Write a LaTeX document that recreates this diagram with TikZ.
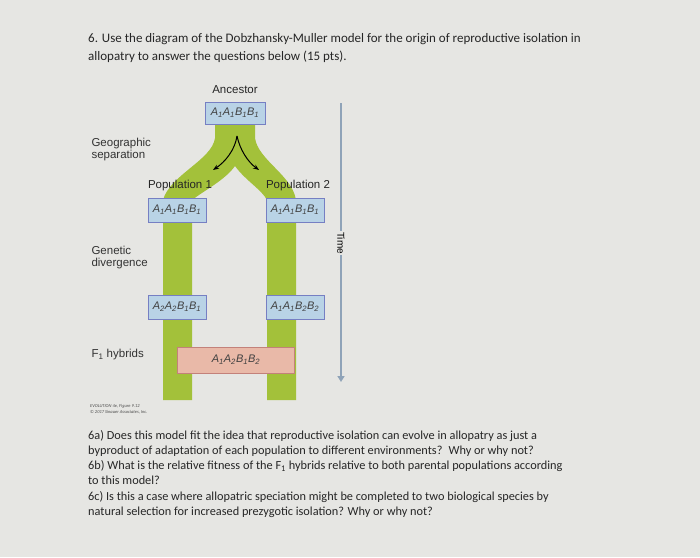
\documentclass[tikz,border=0pt]{standalone}
\usepackage{fontspec}
\setmainfont{Carlito}
\newfontfamily\fig{Liberation Sans}
\usetikzlibrary{arrows.meta}
\definecolor{bg}{HTML}{E6E6E3}
\definecolor{grn}{HTML}{A3C13A}
\definecolor{boxb}{HTML}{B9D3E6}
\definecolor{boxr}{HTML}{E9B9A8}
\definecolor{tline}{HTML}{8FA3B8}
\newcommand{\ssb}[1]{\textsubscript{#1}}
\tikzset{
 gbox/.style={draw=boxb!60!blue!60!gray, fill=boxb, minimum width=58pt, minimum height=24pt, inner sep=0pt, font=\fig\itshape\fontsize{11}{13}\selectfont, text=black!75},
 hbox/.style={gbox, draw=boxr!70!red!60!gray, fill=boxr, minimum width=117pt, minimum height=26pt},
 lab/.style={font=\fig\fontsize{11.5}{13}\selectfont, text=black!80, align=left, anchor=west},
 ttl/.style={font=\fig\fontsize{11.5}{13}\selectfont, text=black!85},
 qtxt/.style={anchor=north west, font=\fontsize{12.3}{15}\selectfont, text=black!85, align=left, inner sep=0pt}
}
\begin{document}
\begin{tikzpicture}[x=1pt,y=-1pt]
\fill[bg] (0,0) rectangle (700,557);
\useasboundingbox (0,0) rectangle (700,557);
% green branches
\fill[grn] (215,124) -- (215,138) .. controls (212,160) and (170,175) .. (163,200) -- (163,400) -- (192,400) -- (192,200) .. controls (205,190) and (225,180) .. (235,166)
 .. controls (245,180) and (262,190) .. (267,200) -- (267,400) -- (296,400) -- (296,200) .. controls (292,175) and (258,160) .. (255,138) -- (255,124) -- cycle;
\node[ttl] (anc) at (235,90) {Ancestor};
\node[gbox, minimum width=60pt, minimum height=22pt] (a) at (235,113) {A\ssb1A\ssb1B\ssb1B\ssb1};
\node[ttl] (p1l) at (180,186) {Population 1};
\node[ttl] (p2l) at (298,186) {Population 2};
\node[gbox] (p1) at (177,210) {A\ssb1A\ssb1B\ssb1B\ssb1};
\node[gbox] (p2) at (295,210) {A\ssb1A\ssb1B\ssb1B\ssb1};
\node[gbox] (q1) at (177,307) {A\ssb2A\ssb2B\ssb1B\ssb1};
\node[gbox] (q2) at (295,307) {A\ssb1A\ssb1B\ssb2B\ssb2};
\node[hbox] (f1) at (236,360) {A\ssb1A\ssb2B\ssb1B\ssb2};
\coordinate (s) at (237,136);
\coordinate (e1) at (213,170);
\coordinate (e2) at (259,170);
\draw[-{Stealth[length=6pt]}, line width=1pt] (s) .. controls (235,150) and (225,162) .. (e1);
\draw[-{Stealth[length=6pt]}, line width=1pt] (s) .. controls (240,150) and (248,162) .. (e2);
\coordinate (t0) at (341,103);
\coordinate (t1) at (341,382);
\draw[tline, line width=2.5pt, -{Triangle[length=6pt,width=7pt]}] (t0) -- (t1);
\node[fill=bg, rotate=-90, font=\fig\fontsize{10}{12}\selectfont, inner sep=1pt] (time) at (341,243) {Time};
\node[lab] (gs) at (88,150) {Geographic\\[-1pt]separation};
\node[lab] (gd) at (88,258) {Genetic\\[-1pt]divergence};
\node[lab] (f1l) at (88,355) {F\ssb1 hybrids};
\node[anchor=north west, font=\fontsize{13}{18}\selectfont, text=black!85, align=left, inner sep=0pt] (title) at (88,33) {6. Use the diagram of the Dobzhansky-Muller model for the origin of reproductive isolation in\\allopatry to answer the questions below (15 pts).};
\node[anchor=north west, font=\fontsize{4.5}{6}\selectfont\itshape, text=black!70, align=left, inner sep=0pt] (cr) at (90,404) {EVOLUTION 4e, Figure 9.12\\\copyright{} 2017 Sinauer Associates, Inc.};
\node[qtxt] (q) at (88,430) {6a) Does this model fit the idea that reproductive isolation can evolve in allopatry as just a\\
byproduct of adaptation of each population to different environments?\enspace Why or why not?\\
6b) What is the relative fitness of the F\ssb1 hybrids relative to both parental populations according\\
to this model?\\[1pt]
6c) Is this a case where allopatric speciation might be completed to two biological species by\\
natural selection for increased prezygotic isolation? Why or why not?};
\end{tikzpicture}
\end{document}
